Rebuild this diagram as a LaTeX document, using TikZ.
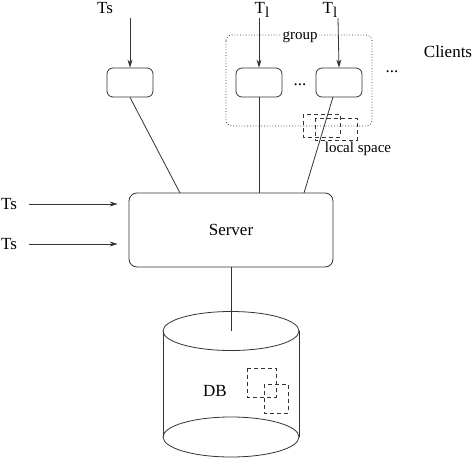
\documentclass[tikz,border=0pt]{standalone}
\usepackage{fontspec}
\setmainfont{Liberation Serif}
\usetikzlibrary{arrows.meta}
\usetikzlibrary{calc}

\begin{document}
\begin{tikzpicture}[x=1pt,y=-1pt,line width=0.8pt,draw=black!80,
                    font=\fontsize{17}{20}\selectfont]
                    \tikzset{client/.style={draw,rounded corners=6pt,minimum width=46pt,minimum height=29pt,inner sep=0pt}}
                    \tikzset{arr/.style={-{Stealth[length=8pt,width=5pt,inset=2.5pt]}}}
                    \tikzset{small/.style={font=\fontsize{15}{18}\selectfont,inner sep=1pt}}
                    \tikzset{box/.style={dash pattern=on 4pt off 3pt}}
                    \tikzset{toplabel/.style={anchor=north,inner sep=0pt}}
                    \useasboundingbox (0,0) rectangle (474,460);
                    % clients
                    \draw (130,82.5) node[client,name=c1] {};
                    \draw (259,82.5) node[client,name=c2] {};
                    \draw (339,82.5) node[client,name=c3] {};
                    \draw (300,85) node[inner sep=0pt] (d1) {...};
                    \draw (392,72) node[inner sep=0pt] (d2) {...};
                    \draw (448,52) node (clients) {Clients};
                    % group
                    \draw[dotted,rounded corners=6pt] (226,35) rectangle (372,126);
                    \draw (300,37) node[small,fill=white] (grp) {group};
                    % local space
                    \draw[box] (303,114) rectangle (340,137);
                    \draw[box] (315,118) rectangle (357,140);
                    \draw (358,149) node[small,inner sep=0pt] (ls) {local space};
                    % transactions
                    \draw (105,2) node[toplabel] (ts1) {Ts};
                    \draw (262,2) node[toplabel] (tl1) {T\raisebox{-4pt}{\fontsize{15}{16}\selectfont l}};
                    \draw (330,2) node[toplabel] (tl2) {T\raisebox{-4pt}{\fontsize{15}{16}\selectfont l}};
                    \coordinate (a1) at (130,18);
                    \coordinate (a2) at (259,18);
                    \coordinate (a3) at (338,18);
                    \draw[arr] (a1) -- (c1.north);
                    \draw[arr] (a2) -- (c2.north);
                    \draw[arr] (a3) -- (c3.north);
                    % server
                    \draw (231,230) node[draw,rounded corners=8pt,minimum width=204pt,minimum height=74pt,name=srv] {Server};
                    \draw (c1.south) -- (180,193);
                    \draw (c2.south) -- (c2.south |- srv.north);
                    \draw (333,97) -- (304,193);
                    \draw (9,204) node (ts2) {Ts};
                    \draw (9,244) node (ts3) {Ts};
                    \draw[arr] ($(ts2.east)+(8,0)$) -- ($(srv.west |- ts2)+(-11,0)$);
                    \draw[arr] ($(ts3.east)+(8,0)$) -- ($(srv.west |- ts3)+(-11,0)$);
                    % database
                    \coordinate (dbtop) at (231,331);
                    \draw (dbtop) ellipse [x radius=68pt,y radius=19.5pt];
                    \draw (163,331) -- (163,437);
                    \draw (299,331) -- (299,437);
                    \draw (231,437) ellipse [x radius=68pt,y radius=20pt];
                    \draw (srv.south |- 0,267) -- (dbtop);
                    \draw (215,391) node (db) {DB};
                    \draw[box] (247,368) rectangle (276,397);
                    \draw[box] (264,384) rectangle (288,413);
\end{tikzpicture}
\end{document}
